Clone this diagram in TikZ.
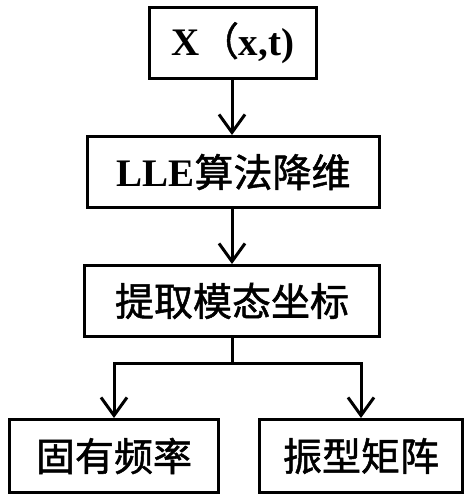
\documentclass[tikz,border=0pt]{standalone}
\usepackage{fontspec}
\setmainfont{Liberation Serif}
\newfontfamily\cjk[FakeBold=1.3]{Noto Sans CJK SC}
\usetikzlibrary{arrows.meta}
\tikzset{
  box/.style={draw=black, line width=3pt, minimum height=71pt, inner sep=0pt, font=\fontsize{39}{44}\selectfont},
  conn/.style={line width=3pt, -{Straight Barb[length=18pt,width=26pt,line width=3pt]}},
  line/.style={line width=3pt}
}
\begin{document}
\begin{tikzpicture}[x=1pt,y=1pt]
\useasboundingbox (0,0) rectangle (474,-499);
\node[box, minimum width=167pt] (b1) at (233,-43) {\textbf{X}{\cjk （}\textbf{x,t)}};
\node[box, minimum width=292pt] (b2) at (233.5,-172) {\textbf{LLE}{\cjk 算法降维}};
\node[box, minimum width=295pt] (b3) at (232,-301) {\cjk 提取模态坐标};
\node[box, minimum width=209pt, minimum height=73pt] (b4) at (114,-456) {\cjk 固有频率};
\node[box, minimum width=203pt, minimum height=73pt] (b5) at (361,-456) {\cjk 振型矩阵};
\coordinate (j) at (232,-363);
\draw[conn] (b1.south -| j) -- (b2.north -| j);
\draw[conn] (b2.south -| j) -- (b3.north -| j);
\draw[line] (b3.south -| j) -- (j);
\draw[conn] (j) -| (b4.north);
\draw[conn] (j) -| (b5.north);
\end{tikzpicture}
\end{document}
